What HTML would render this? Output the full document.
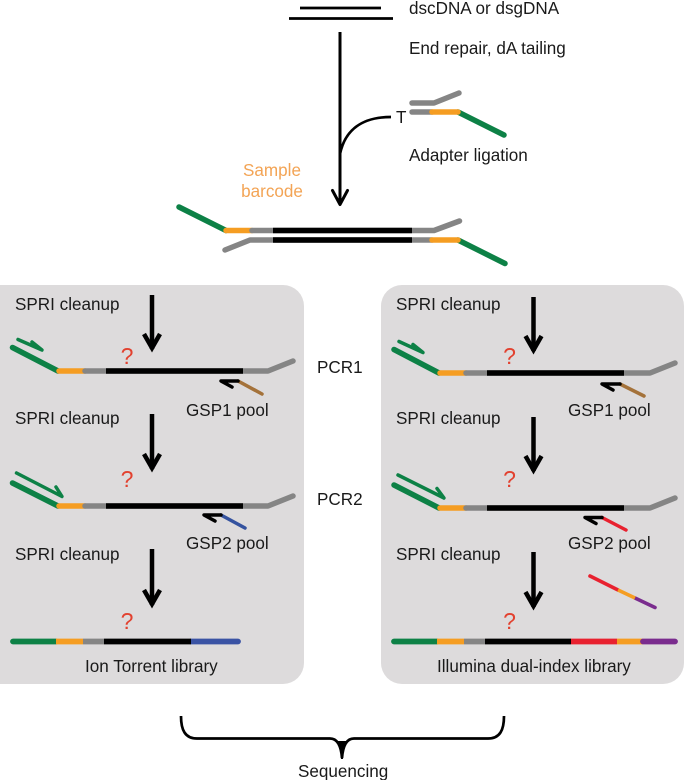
<!DOCTYPE html>
<html>
<head>
<meta charset="utf-8">
<style>
html,body{margin:0;padding:0;background:#fff;}
svg{display:block;}
text{font-family:"Liberation Sans",Arial,sans-serif;font-size:17.1px;fill:#1a1a1a;transform:translateY(1px);}
text.q{font-size:23px;fill:#e2412f;text-anchor:middle;}
text.o{fill:#f3a455;text-anchor:middle;}
.b{stroke-linecap:butt;fill:none;}
.r{stroke-linecap:round;stroke-linejoin:round;fill:none;}
</style>
</head>
<body>
<svg width="685" height="780" viewBox="0 0 685 780" xmlns="http://www.w3.org/2000/svg">
<!-- panels -->
<rect x="-20" y="285" width="324" height="399" rx="21" fill="#dddbdc"/>
<rect x="381" y="285" width="303" height="399" rx="21" fill="#dddbdc"/>

<!-- top dsDNA -->
<line x1="300" y1="8" x2="381" y2="8" stroke="#000" stroke-width="2.700"/>
<line x1="289" y1="18.500" x2="393" y2="18.500" stroke="#000" stroke-width="2.700"/>
<text x="409" y="13">dscDNA or dsgDNA</text>
<text x="409" y="53">End repair, dA tailing</text>
<text x="409" y="160">Adapter ligation</text>
<text x="396" y="122">T</text>
<text class="o" x="272" y="175">Sample</text>
<text class="o" x="272" y="196">barcode</text>

<!-- main arrow -->
<line x1="340" y1="32" x2="340" y2="204" stroke="#000" stroke-width="3"/>
<path class="r" d="M332.500 190.500 L340 204.500 L347.500 190.500" stroke="#000" stroke-width="3"/>
<path class="b" d="M391 117 C362 117 345 130 340 154" stroke="#000" stroke-width="2.700"/>

<!-- adapter -->
<path class="r" d="M412 103 H434 L459 93" stroke="#858585" stroke-width="5.500"/>
<line x1="412" y1="112" x2="432" y2="112" stroke="#858585" stroke-width="5.500" stroke-linecap="round"/>
<line x1="458" y1="112" x2="504" y2="135" stroke="#0d8146" stroke-width="5.500" stroke-linecap="round"/>
<line x1="432" y1="112" x2="458" y2="112" stroke="#f59d22" stroke-width="5.500" stroke-linecap="round"/>

<!-- ligated product -->
<line x1="179" y1="207" x2="226" y2="230.500" stroke="#0d8146" stroke-width="5.500" stroke-linecap="round"/>
<line x1="226" y1="230.500" x2="252" y2="230.500" stroke="#f59d22" stroke-width="5.500" stroke-linecap="round"/>
<path class="r" d="M252 230.500 H434 L459.500 221" stroke="#858585" stroke-width="5.500"/>
<path class="r" d="M225 250 L250 240 H432" stroke="#858585" stroke-width="5.500"/>
<line x1="458" y1="240" x2="505" y2="263.500" stroke="#0d8146" stroke-width="5.500" stroke-linecap="round"/>
<line x1="432" y1="240" x2="458" y2="240" stroke="#f59d22" stroke-width="5.500" stroke-linecap="round"/>
<line x1="273" y1="230.500" x2="412" y2="230.500" stroke="#000" stroke-width="5.500"/>
<line x1="273" y1="240" x2="412" y2="240" stroke="#000" stroke-width="5.500"/>

<!-- LEFT PANEL -->
<text x="15" y="309">SPRI cleanup</text>
<text x="15" y="423">SPRI cleanup</text>
<text x="15" y="559">SPRI cleanup</text>
<text x="186" y="415">GSP1 pool</text>
<text x="186" y="548">GSP2 pool</text>
<text x="85" y="671">Ion Torrent library</text>
<text class="q" x="127" y="363">?</text>
<text class="q" x="127" y="486">?</text>
<text class="q" x="127" y="628">?</text>

<g stroke="#000" fill="none" stroke-linejoin="miter">
<line x1="152" y1="295" x2="152" y2="349" stroke-width="4.500"/>
<path d="M144 334 L152 348 L160 334" stroke-width="4.500"/>
<line x1="152" y1="414" x2="152" y2="469" stroke-width="4.500"/>
<path d="M144 454 L152 468 L160 454" stroke-width="4.500"/>
<line x1="152" y1="549" x2="152" y2="605" stroke-width="4.500"/>
<path d="M144 590 L152 604 L160 590" stroke-width="4.500"/>
</g>

<!-- left PCR1 -->
<line x1="12.500" y1="347.500" x2="58" y2="371" stroke="#0d8146" stroke-width="5.500" stroke-linecap="round"/>
<path class="r" d="M18 339.500 L42 350 L32 342" stroke="#0d8146" stroke-width="3.500"/>
<line x1="59" y1="371" x2="85" y2="371" stroke="#f59d22" stroke-width="5.500" stroke-linecap="round"/>
<path class="r" d="M85 371 H268 L293 361" stroke="#858585" stroke-width="5.500"/>
<line x1="106" y1="371" x2="243" y2="371" stroke="#000" stroke-width="5.500"/>
<path class="r" d="M238 381 L262 394" stroke="#a4723a" stroke-width="3.500"/>
<path class="r" d="M238 381 H221 L232 387" stroke="#000" stroke-width="3.500"/>

<!-- left PCR2 -->
<line x1="12.500" y1="483" x2="58" y2="506" stroke="#0d8146" stroke-width="5.500" stroke-linecap="round"/>
<path class="r" d="M16.500 473 L62 496.500 L56 487" stroke="#0d8146" stroke-width="3.500"/>
<line x1="59" y1="506" x2="85" y2="506" stroke="#f59d22" stroke-width="5.500" stroke-linecap="round"/>
<path class="r" d="M85 506 H268 L293 496" stroke="#858585" stroke-width="5.500"/>
<line x1="106" y1="506" x2="243" y2="506" stroke="#000" stroke-width="5.500"/>
<path class="r" d="M221 515 L245 528" stroke="#34529f" stroke-width="3.500"/>
<path class="r" d="M221 515 H204 L215 521" stroke="#000" stroke-width="3.500"/>

<!-- left library -->
<line x1="13" y1="641.500" x2="56" y2="641.500" stroke="#0d8146" stroke-width="5.800" stroke-linecap="round"/>
<line x1="56" y1="641.500" x2="83" y2="641.500" stroke="#f59d22" stroke-width="5.800"/>
<line x1="83" y1="641.500" x2="104" y2="641.500" stroke="#858585" stroke-width="5.800"/>
<line x1="191" y1="641.500" x2="238" y2="641.500" stroke="#3a53a4" stroke-width="5.800" stroke-linecap="round"/>
<line x1="104" y1="641.500" x2="191" y2="641.500" stroke="#000" stroke-width="5.800"/>

<!-- RIGHT PANEL -->
<text x="396" y="309">SPRI cleanup</text>
<text x="396" y="423">SPRI cleanup</text>
<text x="396" y="559">SPRI cleanup</text>
<text x="568" y="415">GSP1 pool</text>
<text x="568" y="548">GSP2 pool</text>
<text x="437" y="671">Illumina dual-index library</text>
<text class="q" x="509.500" y="363">?</text>
<text class="q" x="509.500" y="486">?</text>
<text class="q" x="509.500" y="628">?</text>

<g stroke="#000" fill="none">
<line x1="533.500" y1="297" x2="533.500" y2="351" stroke-width="4.500"/>
<path d="M525.500 336 L533.500 350 L541.500 336" stroke-width="4.500"/>
<line x1="533.500" y1="417" x2="533.500" y2="471" stroke-width="4.500"/>
<path d="M525.500 456 L533.500 470 L541.500 456" stroke-width="4.500"/>
<line x1="533.500" y1="552" x2="533.500" y2="607" stroke-width="4.500"/>
<path d="M525.500 592 L533.500 606 L541.500 592" stroke-width="4.500"/>
</g>

<!-- right PCR1 -->
<line x1="394" y1="349.500" x2="439" y2="373" stroke="#0d8146" stroke-width="5.500" stroke-linecap="round"/>
<path class="r" d="M399 341.500 L423 352.500 L413 344.500" stroke="#0d8146" stroke-width="3.500"/>
<line x1="440" y1="373" x2="466" y2="373" stroke="#f59d22" stroke-width="5.500" stroke-linecap="round"/>
<path class="r" d="M466 373 H650 L675 363" stroke="#858585" stroke-width="5.500"/>
<line x1="487" y1="373" x2="624" y2="373" stroke="#000" stroke-width="5.500"/>
<path class="r" d="M620 384 L644 396" stroke="#a4723a" stroke-width="3.500"/>
<path class="r" d="M620 384 H602 L613 390" stroke="#000" stroke-width="3.500"/>

<!-- right PCR2 -->
<line x1="394" y1="485" x2="439" y2="508" stroke="#0d8146" stroke-width="5.500" stroke-linecap="round"/>
<path class="r" d="M398 475 L444 498 L437 488.500" stroke="#0d8146" stroke-width="3.500"/>
<line x1="440" y1="508" x2="466" y2="508" stroke="#f59d22" stroke-width="5.500" stroke-linecap="round"/>
<path class="r" d="M466 508 H650 L675 498" stroke="#858585" stroke-width="5.500"/>
<line x1="487" y1="508" x2="624" y2="508" stroke="#000" stroke-width="5.500"/>
<path class="r" d="M602 517.500 L626 530" stroke="#e8212f" stroke-width="3.500"/>
<path class="r" d="M602 517.500 H585 L596 523.500" stroke="#000" stroke-width="3.500"/>

<!-- loose index primer -->
<line x1="590" y1="576" x2="618" y2="590" stroke="#e8212f" stroke-width="3.600" stroke-linecap="round"/>
<line x1="635" y1="598" x2="655" y2="607.500" stroke="#7a2c8e" stroke-width="3.600" stroke-linecap="round"/>
<line x1="618" y1="590" x2="635" y2="598" stroke="#f59d22" stroke-width="3.600"/>

<!-- right library -->
<line x1="394" y1="641.500" x2="437" y2="641.500" stroke="#0d8146" stroke-width="5.800" stroke-linecap="round"/>
<line x1="437" y1="641.500" x2="464" y2="641.500" stroke="#f59d22" stroke-width="5.800"/>
<line x1="464" y1="641.500" x2="485" y2="641.500" stroke="#858585" stroke-width="5.800"/>
<line x1="485" y1="641.500" x2="571" y2="641.500" stroke="#000" stroke-width="5.800"/>
<line x1="571" y1="641.500" x2="617" y2="641.500" stroke="#e8212f" stroke-width="5.800"/>
<line x1="617" y1="641.500" x2="643" y2="641.500" stroke="#f59d22" stroke-width="5.800"/>
<line x1="643" y1="641.500" x2="675" y2="641.500" stroke="#7a2c8e" stroke-width="5.800" stroke-linecap="round"/>

<!-- PCR labels -->
<text x="317" y="372">PCR1</text>
<text x="317" y="504">PCR2</text>

<!-- brace -->
<path d="M181 716 C181 730 185 738.500 197 738.500 H330 C337 738.500 341 745 342 758 C343 745 347 738.500 354 738.500 H488 C500 738.500 504 730 504 716" fill="none" stroke="#000" stroke-width="2.700"/>
<path d="M337 741 C340 745 341 752 341 759 H343 C343 752 344 745 347 741 Z" fill="#000"/>
<text x="298" y="776">Sequencing</text>
</svg>
</body>
</html>
